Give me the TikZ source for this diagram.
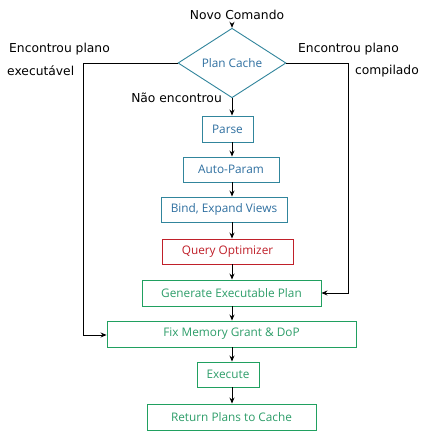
\documentclass[tikz,border=0pt]{standalone}
\usepackage{fontspec}
\usetikzlibrary{shapes.geometric,arrows.meta}
\newfontfamily\labfont{DejaVu Sans}
\newfontfamily\boxfont{Open Sans}
\definecolor{bbord}{HTML}{31859C}
\definecolor{btext}{HTML}{2E6FA0}
\definecolor{gbord}{HTML}{20A060}
\definecolor{gtext}{HTML}{2E9E6A}
\definecolor{rbord}{HTML}{C0202A}
\definecolor{rtext}{HTML}{C0202A}
\tikzset{
  lab/.style={font=\labfont\fontsize{12.3}{14}\selectfont, inner sep=0pt, text=black},
  bx/.style={rectangle, draw, line width=0.9pt, inner sep=0pt, font=\boxfont\fontsize{11.8}{14}\selectfont},
  bluebox/.style={bx, draw=bbord, text=btext},
  greenbox/.style={bx, draw=gbord, text=gtext},
  redbox/.style={bx, draw=rbord, text=rtext},
  arr/.style={-{Stealth[length=6pt,width=5pt]}, line width=0.9pt, black},
  ln/.style={line width=0.9pt, black}
}
\begin{document}
\begin{tikzpicture}[x=1pt,y=-1pt]
\useasboundingbox (0,0) rectangle (430,446);
\fill[white] (0,0) rectangle (430,446);

\node[lab] (novo) at (237,15) {Novo Comando};
\coordinate (start) at (232,26);
\node[diamond, draw=bbord, line width=0.9pt, minimum width=108pt, minimum height=47pt, inner sep=0pt,
      text=btext, font=\boxfont\fontsize{11.8}{14}\selectfont] (diam) at (232,63) {Plan Cache};

\node[bluebox, minimum width=51pt, minimum height=26pt] (parse) at (227.5,129) {Parse};
\node[bluebox, minimum width=96pt, minimum height=25pt] (autop) at (231,169.5) {Auto-Param};
\node[bluebox, minimum width=126pt, minimum height=25pt] (bind) at (224,209.5) {Bind, Expand Views};
\node[redbox, minimum width=131pt, minimum height=25pt] (qo) at (227.5,251.5) {Query Optimizer};
\node[greenbox, minimum width=179pt, minimum height=26pt] (gen) at (231.5,293) {Generate Executable Plan};
\node[greenbox, minimum width=249pt, minimum height=26pt] (fix) at (231.5,334) {Fix Memory Grant \& DoP};
\node[greenbox, minimum width=62pt, minimum height=25pt] (exe) at (228,374.5) {Execute};
\node[greenbox, minimum width=169pt, minimum height=26pt] (ret) at (231.5,417) {Return Plans to Cache};

\node[lab] (l1) at (59.5,49) {Encontrou plano};
\node[lab, anchor=west] (l2) at (7,71) {executável};
\node[lab, anchor=west] (r1) at (298,49) {Encontrou plano};
\node[lab, anchor=east] (r2) at (419,71) {compilado};
\node[lab, anchor=east] (nao) at (222,98) {Não encontrou};

\draw[arr] (start) -- (diam.north);
\draw[arr] (diam.south) -- (parse.north -| diam.south);
\draw[arr] (parse.south -| diam.south) -- (autop.north -| diam.south);
\draw[arr] (autop.south -| diam.south) -- (bind.north -| diam.south);
\draw[arr] (bind.south -| diam.south) -- (qo.north -| diam.south);
\draw[arr] (qo.south -| diam.south) -- (gen.north -| diam.south);
\draw[arr] (gen.south -| diam.south) -- (fix.north -| diam.south);
\draw[arr] (fix.south -| diam.south) -- (exe.north -| diam.south);
\draw[arr] (exe.south -| diam.south) -- (ret.north -| diam.south);

\coordinate (lt) at (83,63);
\coordinate (lb) at (83,335);
\coordinate (rt) at (348,63);
\coordinate (rb) at (348,293);
\draw[arr] (diam.west) -- (lt) -- (lb) -- (lb -| fix.west);
\draw[arr] (diam.east) -- (rt) -- (rb) -- (gen.east);
\end{tikzpicture}
\end{document}
